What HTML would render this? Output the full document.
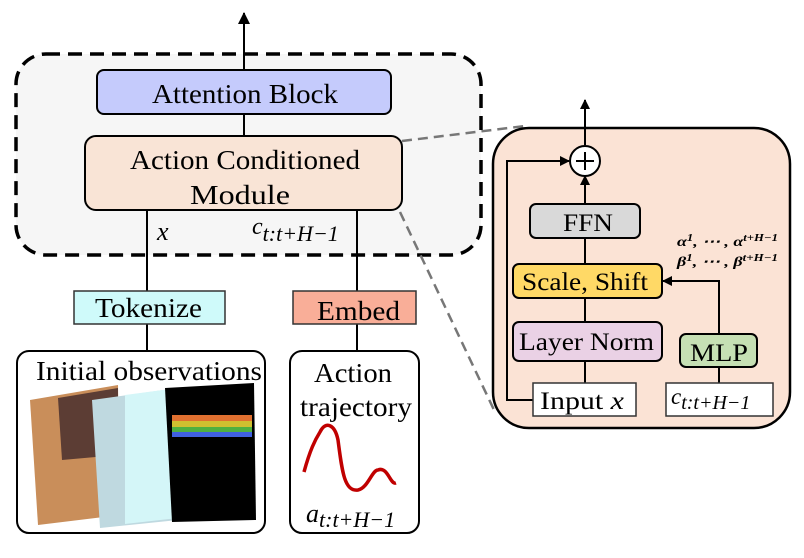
<!DOCTYPE html>
<html><head><style>body{margin:0;background:#fff}svg{display:block}text{font-family:"Liberation Serif",serif;fill:#000}</style></head><body>
<svg width="804" height="558" viewBox="0 0 804 558" xmlns="http://www.w3.org/2000/svg">
<defs><marker id="a" markerWidth="10" markerHeight="10" refX="9" refY="5" orient="auto" markerUnits="userSpaceOnUse"><path d="M0,0 L10,5 L0,10 z" fill="#000"/></marker>
<marker id="b" markerWidth="12" markerHeight="14" refX="11" refY="6" orient="auto" markerUnits="userSpaceOnUse"><path d="M0,0 L12,6 L0,12 z" fill="#000"/></marker></defs>
<rect x="16" y="54" width="465" height="201" rx="30" fill="#f6f6f6" stroke="#000" stroke-width="3.5" stroke-dasharray="14,8"/>
<line x1="244" y1="70" x2="244" y2="13" stroke="#000" stroke-width="2" marker-end="url(#b)"/>
<line x1="244" y1="114" x2="244" y2="136" stroke="#000" stroke-width="2"/>
<rect x="97" y="70" width="294" height="44" rx="7" fill="#c5cbfc" stroke="#000" stroke-width="2"/>
<text x="152" y="103" font-size="27" textLength="186" lengthAdjust="spacingAndGlyphs">Attention Block</text>
<rect x="85" y="136" width="317" height="74" rx="11" fill="#f9e4d6" stroke="#000" stroke-width="2"/>
<text x="130" y="169" font-size="27" textLength="230" lengthAdjust="spacingAndGlyphs">Action Conditioned</text>
<text x="190" y="204" font-size="27" textLength="100" lengthAdjust="spacingAndGlyphs">Module</text>
<line x1="147" y1="210" x2="147" y2="350" stroke="#000" stroke-width="2"/>
<line x1="357" y1="210" x2="357" y2="350" stroke="#000" stroke-width="2"/>
<text x="157" y="240" font-size="26" font-style="italic">x</text>
<text x="252" y="234" font-size="24" font-style="italic">c<tspan font-size="22" dy="7">t:t+H−1</tspan></text>
<rect x="74" y="291" width="151" height="33" fill="#cffafa" stroke="#333" stroke-width="1.5"/>
<text x="95" y="317" font-size="27" textLength="107" lengthAdjust="spacingAndGlyphs">Tokenize</text>
<rect x="293" y="291" width="123" height="33" fill="#f9ae98" stroke="#333" stroke-width="1.5"/>
<text x="317" y="320" font-size="27" textLength="83" lengthAdjust="spacingAndGlyphs">Embed</text>
<rect x="17" y="351" width="248" height="182" rx="12" fill="#fff" stroke="#000" stroke-width="2"/>
<text x="36" y="380" font-size="27" textLength="226" lengthAdjust="spacingAndGlyphs">Initial observations</text>
<polygon points="30,400 118,385 120,515 38,525" fill="#c98e5a"/>
<polygon points="58,398 118,388 118,455 62,460" fill="#5c3d34"/>
<polygon points="92,400 178,388 178,520 100,528" fill="#bfd9e0"/>
<polygon points="125,395 178,388 178,518 125,524" fill="#d4f6f8"/>
<polygon points="165,388 254,383 256,520 172,522" fill="#000"/>
<rect x="172" y="415" width="80" height="6" fill="#e07030"/>
<rect x="172" y="421" width="80" height="6" fill="#d0c030"/>
<rect x="172" y="427" width="80" height="5" fill="#50b040"/>
<rect x="172" y="432" width="80" height="5" fill="#4060e0"/>
<rect x="290" y="351" width="129" height="182" rx="12" fill="#fff" stroke="#000" stroke-width="2"/>
<text x="314" y="382" font-size="27" textLength="78" lengthAdjust="spacingAndGlyphs">Action</text>
<text x="300" y="416" font-size="27" textLength="112" lengthAdjust="spacingAndGlyphs">trajectory</text>
<path d="M304,472 C310,450 315,440 320,432 C326,420 335,425 338,440 C342,470 344,492 358,490 C368,488 372,470 378,470 C388,466 390,485 396,483" fill="none" stroke="#c00000" stroke-width="3.5"/>
<text x="306" y="522" font-size="26" font-style="italic">a<tspan font-size="22" dy="5">t:t+H−1</tspan></text>
<line x1="402" y1="141" x2="525" y2="126" stroke="#777" stroke-width="2.5" stroke-dasharray="10,6"/>
<line x1="400" y1="212" x2="495" y2="412" stroke="#777" stroke-width="2.5" stroke-dasharray="10,6"/>
<rect x="493" y="128" width="297" height="300" rx="36" fill="#fbe3d5" stroke="#000" stroke-width="2.5"/>
<line x1="585" y1="145" x2="585" y2="100" stroke="#000" stroke-width="2" marker-end="url(#a)"/>
<circle cx="585" cy="161" r="15" fill="#fff" stroke="#000" stroke-width="2"/>
<line x1="576" y1="161" x2="594" y2="161" stroke="#000" stroke-width="2"/><line x1="585" y1="152" x2="585" y2="170" stroke="#000" stroke-width="2"/>
<line x1="585" y1="203" x2="585" y2="176" stroke="#000" stroke-width="2" marker-end="url(#a)"/>
<line x1="585" y1="238" x2="585" y2="383" stroke="#000" stroke-width="2"/>
<polyline points="533,400 507,400 507,161 569,161" fill="none" stroke="#000" stroke-width="2" marker-end="url(#a)"/>
<polyline points="719,334 719,281 663,281" fill="none" stroke="#000" stroke-width="2" marker-end="url(#a)"/>
<line x1="719" y1="367" x2="719" y2="383" stroke="#000" stroke-width="2"/>
<rect x="530" y="204" width="110" height="34" rx="6" fill="#d9d9d9" stroke="#000" stroke-width="2"/>
<text x="563" y="231" font-size="25" textLength="50" lengthAdjust="spacingAndGlyphs">FFN</text>
<rect x="513" y="264" width="149" height="34" rx="6" fill="#ffd966" stroke="#000" stroke-width="2"/>
<text x="522" y="290" font-size="25" textLength="126" lengthAdjust="spacingAndGlyphs">Scale, Shift</text>
<rect x="513" y="322" width="149" height="39" rx="6" fill="#ead1e5" stroke="#000" stroke-width="2"/>
<text x="519" y="350" font-size="25" textLength="135" lengthAdjust="spacingAndGlyphs">Layer Norm</text>
<rect x="680" y="334" width="77" height="33" rx="6" fill="#c6e0b4" stroke="#000" stroke-width="2"/>
<text x="690" y="361" font-size="25" textLength="58" lengthAdjust="spacingAndGlyphs">MLP</text>
<rect x="533" y="383" width="103" height="33" fill="#fff" stroke="#333" stroke-width="1.5"/>
<text x="540" y="409" font-size="25" textLength="84" lengthAdjust="spacingAndGlyphs">Input <tspan font-style="italic">x</tspan></text>
<rect x="666" y="383" width="107" height="33" fill="#fff" stroke="#333" stroke-width="1.5"/>
<text x="671" y="404" font-size="23" font-style="italic">c<tspan font-size="20" dy="5">t:t+H−1</tspan></text>
<text x="677" y="246" font-size="14" font-weight="bold" font-style="italic" textLength="101" lengthAdjust="spacingAndGlyphs">α<tspan font-size="10" dy="-5">1</tspan><tspan dy="5">, ⋯ , α</tspan><tspan font-size="10" dy="-5">t+H−1</tspan></text>
<text x="677" y="266" font-size="14" font-weight="bold" font-style="italic" textLength="101" lengthAdjust="spacingAndGlyphs">β<tspan font-size="10" dy="-5">1</tspan><tspan dy="5">, ⋯ , β</tspan><tspan font-size="10" dy="-5">t+H−1</tspan></text>
</svg>
</body></html>
